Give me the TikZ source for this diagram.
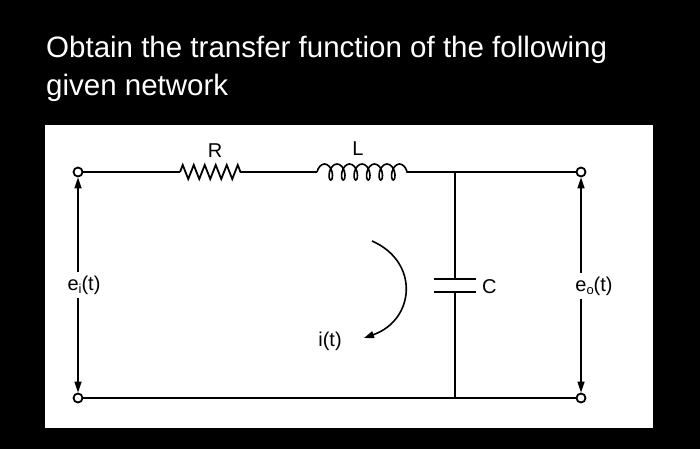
\documentclass[tikz,border=0pt]{standalone}
\usepackage{fontspec}
\setmainfont{Liberation Sans}
\usetikzlibrary{arrows.meta,decorations.pathmorphing,calc}
\newcommand{\mysub}[1]{\raisebox{-0.35ex}{\fontsize{13}{14}\selectfont #1}}
\begin{document}
\begin{tikzpicture}[x=1pt,y=-1pt,
  wire/.style={line width=1.8pt,black},
  term/.style={circle,draw,line width=1.8pt,fill=white,inner sep=0pt,minimum size=9pt},
  lbl/.style={font=\fontsize{20}{22}\selectfont,inner sep=0pt},
  vline/.style={line width=1.5pt,-{Triangle[length=11pt,width=7pt]}}]
\fill[black] (0,0) rectangle (700,449);
\useasboundingbox (0,0) rectangle (700,449);
\node[anchor=west,text=white,font=\fontsize{29.5}{34}\selectfont,inner sep=0pt] (t1) at (46,50) {Obtain the transfer function of the following};
\node[anchor=west,text=white,font=\fontsize{29.5}{34}\selectfont,inner sep=0pt] (t2) at (46,88) {given network};
\fill[white] (45,125) rectangle (653,428);
\node[term] (a) at (78,172) {};
\node[term] (b) at (78,398) {};
\node[term] (c) at (581,172) {};
\node[term] (d) at (581,398) {};
\coordinate (r1) at (180,172);
\coordinate (r2) at (245,172);
\coordinate (l1) at (317,172);
\coordinate (l2) at (410,172);
\coordinate (j1) at (455,172);
\coordinate (j2) at (455,398);
\coordinate (p1) at (455,279);
\coordinate (p2) at (455,292);
\draw[wire] (a) -- (r1);
\draw[wire,decorate,decoration={zigzag,segment length=11pt,amplitude=7pt}] (r1) -- (r2);
\draw[wire] (r2) -- (l1);
\draw[wire,line width=1.6pt,decorate,decoration={coil,aspect=0.55,segment length=12.5pt,amplitude=8pt}] (l1) -- (l2);
\draw[wire] (l2) -- (j1) -- (c);
\draw[wire] (j1) -- (p1);
\draw[wire] (p2) -- (j2);
\draw[line width=2pt] ($(p1)+(-21,0)$) -- ($(p1)+(21,0)$);
\draw[line width=2pt] ($(p2)+(-21,0)$) -- ($(p2)+(21,0)$);
\draw[wire] (b) -- (j2) -- (d);
\node[lbl] (R) at (215,151) {R};
\node[lbl] (L) at (358,149) {L};
\node[lbl,anchor=west] (C) at (482,287) {C};
\node[lbl] (ei) at (84,285) {e\mysub{i}(t)};
\node[lbl] (eo) at (594,286) {e\mysub{o}(t)};
\node[lbl] (it) at (330,341) {i(t)};
\draw[vline] ($(ei.north -| a)+(0,-3)$) -- (a);
\draw[vline] ($(ei.south -| b)+(0,3)$) -- (b);
\draw[vline] ($(eo.north -| c)+(0,-3)$) -- (c);
\draw[vline] ($(eo.south -| d)+(0,3)$) -- (d);
\draw[line width=1.6pt,-{Triangle[length=10pt,width=7pt]}] (372,241) .. controls (420,262) and (415,320) .. (364,338);
\end{tikzpicture}
\end{document}
